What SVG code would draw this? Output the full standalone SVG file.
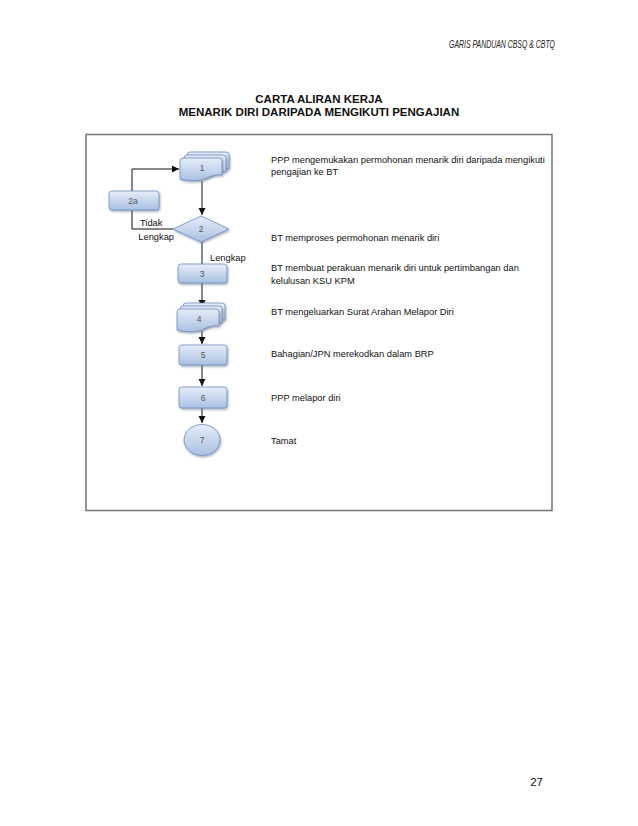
<svg xmlns="http://www.w3.org/2000/svg" width="638" height="826" viewBox="0 0 638 826">
<style>
  .t{font-family:"Liberation Sans",Arial,sans-serif;font-size:9.3px;fill:#111}
  .n{font-family:"Liberation Sans",Arial,sans-serif;font-size:8.5px;fill:#555;text-anchor:middle}
  .shape{fill:url(#g);stroke:#6f8fc2;stroke-width:0.8;filter:url(#sh)}
  .c{fill:none;stroke:#111;stroke-width:1}
</style>
<defs>
  <linearGradient id="g" x1="0" y1="0" x2="0" y2="1">
    <stop offset="0" stop-color="#e6edf8"/>
    <stop offset="1" stop-color="#a9c0e2"/>
  </linearGradient>
  <filter id="sh" x="-20%" y="-20%" width="150%" height="160%">
    <feDropShadow dx="1" dy="1.5" stdDeviation="0.8" flood-color="#6b7a90" flood-opacity="0.6"/>
  </filter>
  <marker id="ah" markerWidth="8" markerHeight="8" refX="7" refY="4" orient="auto" markerUnits="userSpaceOnUse">
    <path d="M0,0.5 L7,4 L0,7.5 Z" fill="#111"/>
  </marker>
  <path id="doc" d="M0,3 Q0,0 3,0 H39 Q42,0 42,3 V17 C36,16 31,18 27,20 C18,24 8,23 0,21 Z"/>
</defs>
<rect width="638" height="826" fill="#fff"/>

<text x="555" y="48" text-anchor="end" font-family="Liberation Sans, Arial, sans-serif" font-size="11" font-style="italic" fill="#222" textLength="106" lengthAdjust="spacingAndGlyphs">GARIS PANDUAN CBSQ &amp; CBTQ</text>
<text x="319" y="103" text-anchor="middle" font-family="Liberation Sans, Arial, sans-serif" font-size="11.5" font-weight="bold" fill="#111">CARTA ALIRAN KERJA</text>
<text x="319" y="116" text-anchor="middle" font-family="Liberation Sans, Arial, sans-serif" font-size="11.5" font-weight="bold" fill="#111">MENARIK DIRI DARIPADA MENGIKUTI PENGAJIAN</text>

<rect x="86" y="134.5" width="466" height="376" fill="none" stroke="#7a7a7a" stroke-width="1.6"/>

<g id="connectors">
  <path class="c" d="M202,181 V215" marker-end="url(#ah)"/>
  <path class="c" d="M132,191 V169 H179" marker-end="url(#ah)"/>
  <path class="c" d="M173,229 H132 V210"/>
  <path class="c" d="M202,242 V264"/>
  <path class="c" d="M202,283 V307" marker-end="url(#ah)"/>
  <path class="c" d="M202,331 V344" marker-end="url(#ah)"/>
  <path class="c" d="M202,365 V386" marker-end="url(#ah)"/>
  <path class="c" d="M202,408 V423" marker-end="url(#ah)"/>
</g>

<g id="node1">
  <use href="#doc" class="shape" transform="translate(187,152)"/>
  <use href="#doc" class="shape" transform="translate(184,155)"/>
  <use href="#doc" class="shape" transform="translate(180,158)"/>
  <text class="n" x="202" y="171">1</text>
</g>
<g id="node2a">
  <rect class="shape" x="109" y="191" width="50" height="19" rx="3"/>
  <text class="n" x="133" y="203.5">2a</text>
</g>
<g id="node2">
  <path class="shape" d="M173,229 L201,216 L229,229 L201,242 Z"/>
  <text class="n" x="201" y="232">2</text>
</g>
<g id="node3">
  <rect class="shape" x="178" y="264" width="49" height="19" rx="3"/>
  <text class="n" x="202" y="276.5">3</text>
</g>
<g id="node4">
  <use href="#doc" class="shape" transform="translate(183,303)"/>
  <use href="#doc" class="shape" transform="translate(180,306)"/>
  <use href="#doc" class="shape" transform="translate(177,309)"/>
  <text class="n" x="199" y="322">4</text>
</g>
<g id="node5">
  <rect class="shape" x="179" y="345" width="48" height="20" rx="3"/>
  <text class="n" x="203" y="358">5</text>
</g>
<g id="node6">
  <rect class="shape" x="179" y="387" width="48" height="21" rx="3"/>
  <text class="n" x="203" y="400.5">6</text>
</g>
<g id="node7">
  <ellipse class="shape" cx="202" cy="440" rx="18" ry="15.5"/>
  <text class="n" x="202" y="443">7</text>
</g>

<g id="labels">
  <text class="t" x="140" y="226">Tidak</text>
  <text class="t" x="174" y="240" text-anchor="end">Lengkap</text>
  <text class="t" x="210" y="261">Lengkap</text>
</g>

<g id="descriptions">
  <text class="t" x="271" y="163">PPP mengemukakan permohonan menarik diri daripada mengikuti</text>
  <text class="t" x="271" y="175">pengajian ke BT</text>
  <text class="t" x="271" y="241">BT memproses permohonan menarik diri</text>
  <text class="t" x="271" y="271">BT membuat perakuan menarik diri untuk pertimbangan dan</text>
  <text class="t" x="271" y="284">kelulusan KSU KPM</text>
  <text class="t" x="271" y="315">BT mengeluarkan Surat Arahan Melapor Diri</text>
  <text class="t" x="271" y="357">Bahagian/JPN merekodkan dalam BRP</text>
  <text class="t" x="271" y="401">PPP melapor diri</text>
  <text class="t" x="271" y="444">Tamat</text>
</g>

<text x="543" y="786" text-anchor="end" font-family="Liberation Sans, Arial, sans-serif" font-size="11.5" fill="#111">27</text>
</svg>
